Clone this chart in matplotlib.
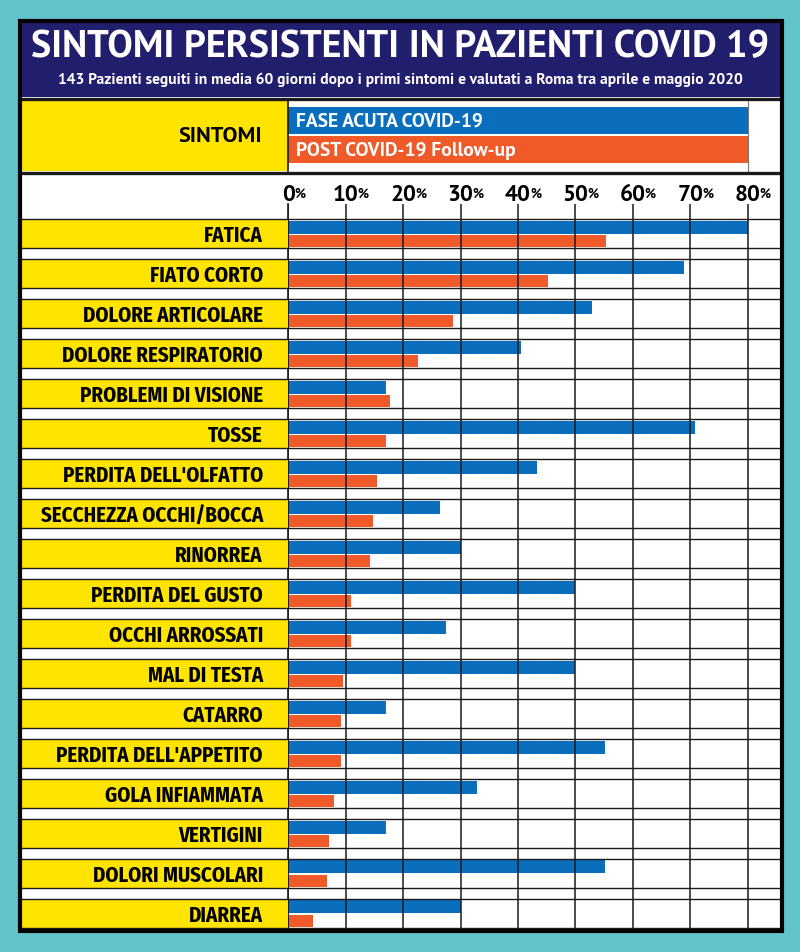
import numpy as np
import matplotlib.pyplot as plt
from matplotlib.patches import Rectangle
from matplotlib.transforms import blended_transform_factory

# Dati (percentuali)
sintomi = ["FATICA", "FIATO CORTO", "DOLORE ARTICOLARE", "DOLORE RESPIRATORIO",
           "PROBLEMI DI VISIONE", "TOSSE", "PERDITA DELL'OLFATTO",
           "SECCHEZZA OCCHI/BOCCA", "RINORREA", "PERDITA DEL GUSTO",
           "OCCHI ARROSSATI", "MAL DI TESTA", "CATARRO", "PERDITA DELL'APPETITO",
           "GOLA INFIAMMATA", "VERTIGINI", "DOLORI MUSCOLARI", "DIARREA"]
fase_acuta = [80.0, 68.9, 52.9, 40.6, 17.1, 70.8, 43.3, 26.4, 30.0, 50.0,
              27.5, 50.0, 17.1, 55.2, 32.8, 17.1, 55.2, 30.0]
follow_up = [55.4, 45.3, 28.7, 22.6, 17.8, 17.0, 15.4, 14.7, 14.2, 11.0,
             11.0, 9.5, 9.1, 9.1, 7.9, 7.1, 6.7, 4.3]
tick_vals = [0, 10, 20, 30, 40, 50, 60, 70, 80]
titolo = "SINTOMI PERSISTENTI IN PAZIENTI COVID 19"
sottotitolo = ("143 Pazienti seguiti in media 60 giorni dopo i primi sintomi "
               "e valutati a Roma tra aprile e maggio 2020")
legenda = ["FASE ACUTA COVID-19", "POST COVID-19 Follow-up"]

TEAL = "#63c3cb"
NAVY = "#221e6e"
BLUE = "#0a6ebd"
ORANGE = "#ef5a28"
YELLOW = "#ffe400"
LINE = "#1a1a1a"

MAIN_FONT = ["PT Sans", "Open Sans", "DejaVu Sans"]
LABEL_FONT = ["Fira Sans Condensed", "PT Sans Narrow", "DejaVu Sans"]

W, H = 800, 953


def box(x0, y0, x1, y1):
    # riquadro in pixel (dall'alto) -> coordinate figura
    return [x0 / W, 1 - y1 / H, (x1 - x0) / W, (y1 - y0) / H]


fig = plt.figure(figsize=(8, 9.53), dpi=100)
fig.patch.set_facecolor(TEAL)

# sfondo e intestazione
bg = fig.add_axes([0, 0, 1, 1])
bg.set_xlim(0, W)
bg.set_ylim(H, 0)
bg.axis("off")
bg.add_patch(Rectangle((20, 22), 761, 908, fc="white", lw=0))
bg.add_patch(Rectangle((20, 22), 761, 76, fc=NAVY, lw=0))
t_title = bg.text(400, 48, titolo, color="white", fontsize=27, weight="bold",
                  family=MAIN_FONT, ha="center", va="center")
t_sub = bg.text(400, 80, sottotitolo, color="white", fontsize=9.6, weight="bold",
                family=MAIN_FONT, ha="center", va="center")

# asse delle barre
ax = fig.add_axes(box(288.3, 205, 780, 930))
y = np.arange(len(sintomi))
ax.barh(y + 0.2, fase_acuta, height=0.325, color=BLUE, zorder=2)
ax.barh(y + 0.55, follow_up, height=0.315, color=ORANGE, zorder=2)
ax.set_xlim(0, (780 - 288.3) / 5.74)
ax.set_ylim((930 - 220) / 40, (205 - 220) / 40)
for v in tick_vals:
    ax.axvline(v, color=LINE, lw=1.1, zorder=3)
for i in y:
    ax.axhline(i, color=LINE, lw=1.0, zorder=3)
    ax.axhline(i + 0.725, color=LINE, lw=1.0, zorder=3)
ax.set_xticks([])
ax.set_yticks([])
for s in ["top", "right", "bottom"]:
    ax.spines[s].set_visible(False)
ax.spines["left"].set_color(LINE)
ax.spines["left"].set_linewidth(1.2)

# etichette asse x con % in apice
for v in tick_vals:
    t = ax.text(v, -0.6, str(v), fontsize=16.5, weight="bold", family=MAIN_FONT,
                ha="center", va="center", clip_on=False)
    ax.annotate("%", xy=(1, 0.9), xycoords=t, xytext=(-0.6, 0),
                textcoords="offset points", ha="left", va="top",
                fontsize=9.5, weight="bold", family=MAIN_FONT)

# colonna dei sintomi
lab = fig.add_axes(box(21, 205, 288.3, 930), sharey=ax)
lab.axis("off")
trans = lab.get_yaxis_transform()
for i, nome in zip(y, sintomi):
    lab.axhspan(i, i + 0.725, color=YELLOW, lw=0)
    lab.axhline(i, color=LINE, lw=1.0)
    lab.axhline(i + 0.725, color=LINE, lw=1.0)
    lab.text(0.905, i + 0.40, nome, transform=trans, ha="right", va="center",
             fontsize=15, weight="bold", family=LABEL_FONT)

# legenda
bg.add_patch(Rectangle((20, 100), 268.3, 72, fc=YELLOW, lw=0))
bg.text(262, 137, "SINTOMI", ha="right", va="center", fontsize=16,
        weight="bold", family=MAIN_FONT)
leg_tr = blended_transform_factory(ax.transData, bg.transData)
for k, (col, txt) in enumerate(zip([BLUE, ORANGE], legenda)):
    y0 = 108 + k * 29
    bg.add_patch(Rectangle((0, y0), tick_vals[-1], 27, fc=col, lw=0,
                           transform=leg_tr))
    bg.text(296, y0 + 14, txt, color="white", fontsize=14, weight="bold",
            family=MAIN_FONT, ha="left", va="center")
bg.plot([288.3, 288.3], [100, 172], color=LINE, lw=1.2)
bg.plot([748, 748], [100, 172], color="#777777", lw=0.8)
bg.plot([20, 781], [99.5, 99.5], color=LINE, lw=2.4)
bg.plot([20, 781], [173.5, 173.5], color=LINE, lw=2.4)

# cornice
fig.add_artist(Rectangle((19.5 / W, 1 - 931.5 / H), 762 / W, 910 / H,
                         transform=fig.transFigure, fill=False, ec="black",
                         lw=3.0, zorder=10))

# adatta la larghezza di titolo e sottotitolo
fig.canvas.draw()
r = fig.canvas.get_renderer()
for t, target in [(t_title, 737), (t_sub, 688)]:
    w = t.get_window_extent(r).width
    t.set_fontsize(t.get_fontsize() * target / w)

fig.savefig("out.png", dpi=100, facecolor=fig.get_facecolor())
